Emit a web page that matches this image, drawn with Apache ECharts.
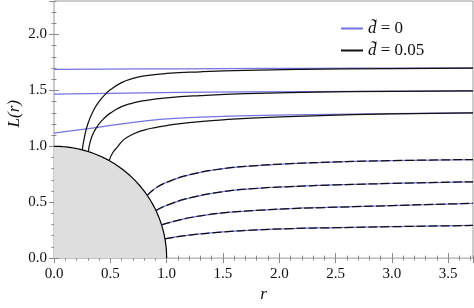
<!DOCTYPE html>
<html>
<head>
<meta charset="utf-8">
<script src="https://cdn.jsdelivr.net/npm/echarts@6/dist/echarts.min.js"></script>
<style>html,body{margin:0;padding:0;background:#fff}#c{width:474px;height:308px}</style>
</head>
<body>
<div id="c"></div>
<script>
// ---- data ----
const legendLabels = ['d\u0303 = 0', 'd\u0303 = 0.05'];
const obstacleRadius = 1;
const xTicksMajor = 0.5, xTicksMinor = 0.1;
const xRange = [0, 3.72];
const yRange = [0, 2.3];

// d = 0 (blue)
const blue1R = [0, 0.855, 1.5, 2.28, 3.0, 3.72];
const blue1L = [1.689, 1.692, 1.695, 1.698, 1.700, 1.702];
const blue2R = [0, 1.118, 2.28, 3.72];
const blue2L = [1.467, 1.482, 1.490, 1.497];
const blue3R = [0, 0.29, 0.556, 0.943, 1.3, 1.65, 2.28, 3.0, 3.72];
const blue3L = [1.119, 1.155, 1.193, 1.240, 1.262, 1.273, 1.284, 1.293, 1.300];

// d = 0.05 (black), upper three
const black1R = [0.251, 0.27, 0.30, 0.35, 0.40, 0.45, 0.50, 0.6, 0.7, 0.8, 1.0, 1.3, 1.7, 2.2, 3.0, 3.72];
const black1L = [0.968, 1.08, 1.20, 1.32, 1.40, 1.46, 1.505, 1.570, 1.607, 1.630, 1.652, 1.667, 1.680, 1.689, 1.696, 1.700];
const black2R = [0.305, 0.32, 0.35, 0.40, 0.45, 0.50, 0.6, 0.7, 0.8, 1.0, 1.3, 1.7, 2.2, 3.0, 3.72];
const black2L = [0.952, 1.035, 1.12, 1.20, 1.255, 1.297, 1.355, 1.387, 1.408, 1.433, 1.454, 1.472, 1.483, 1.492, 1.497];
const black3R = [0.49, 0.52, 0.56, 0.62, 0.7, 0.8, 0.9, 1.0, 1.2, 1.5, 1.8, 2.3, 3.0, 3.72];
const black3L = [0.872, 0.94, 0.99, 1.06, 1.108, 1.145, 1.168, 1.186, 1.212, 1.237, 1.255, 1.273, 1.290, 1.300];

// lower four curves (d = 0 and d = 0.05 coincide)
const lowAR = [0.828, 0.9, 1.0, 1.2, 1.5, 1.8, 2.1, 2.5, 3.0, 3.72];
const lowAL = [0.561, 0.625, 0.678, 0.745, 0.800, 0.828, 0.845, 0.860, 0.872, 0.882];
const lowBR = [0.905, 1.0, 1.2, 1.5, 1.8, 2.1, 2.5, 3.0, 3.72];
const lowBL = [0.425, 0.472, 0.537, 0.594, 0.624, 0.640, 0.655, 0.668, 0.683];
const lowCR = [0.955, 1.1, 1.3, 1.5, 1.8, 2.1, 2.5, 3.0, 3.72];
const lowCL = [0.297, 0.338, 0.378, 0.405, 0.427, 0.443, 0.455, 0.470, 0.490];
const lowDR = [0.985, 1.2, 1.5, 1.8, 2.1, 2.5, 3.0, 3.72];
const lowDL = [0.173, 0.205, 0.234, 0.252, 0.264, 0.272, 0.281, 0.292];

// ---- chart ----
const BLUE = '#7373e2', BLACK = '#111';
const FONT = 'Liberation Serif';
const zip = (a, b) => a.map((v, i) => [v, b[i]]);

function line(name, r, L, color, dashed, z) {
  return {
    type: 'line', name, data: zip(r, L), showSymbol: false, symbol: 'none',
    smooth: 0.5, z: z || 3, silent: true,
    lineStyle: { color, width: 1.25, type: dashed ? [9, 3] : 'solid' },
    itemStyle: { color }
  };
}

const frameAxisX = (pos, interval, len, labels) => ({
  type: 'value', position: pos, min: xRange[0], max: xRange[1], interval,
  axisLine: { show: false }, splitLine: { show: false },
  axisTick: { show: true, inside: true, length: len, lineStyle: { color: '#888', width: 1 } },
  axisLabel: labels ? { show: true, fontFamily: FONT, fontSize: 15, color: '#111', margin: 8,
    showMaxLabel: false, formatter: v => v.toFixed(1) } : { show: false }
});
const frameAxisY = (pos, interval, len, labels) => ({
  type: 'value', position: pos, min: yRange[0], max: yRange[1], interval,
  axisLine: { show: false }, splitLine: { show: false },
  axisTick: { show: true, inside: true, length: len, lineStyle: { color: '#888', width: 1 } },
  axisLabel: labels ? { show: true, fontFamily: FONT, fontSize: 15, color: '#111', margin: 7,
    showMaxLabel: false, formatter: v => v.toFixed(1) } : { show: false }
});

const xAxes = [
  Object.assign(frameAxisX('bottom', xTicksMajor, 5, true), {
    name: 'r', nameLocation: 'middle', nameGap: 26,
    nameTextStyle: { fontFamily: FONT, fontStyle: 'italic', fontSize: 17, color: '#111' }
  }),
  frameAxisX('bottom', xTicksMinor, 2.5, false),
  frameAxisX('top', xTicksMajor, 5, false),
  frameAxisX('top', xTicksMinor, 2.5, false)
];
const yAxes = [
  frameAxisY('left', xTicksMajor, 5, true),
  frameAxisY('left', xTicksMinor, 2.5, false),
  frameAxisY('right', xTicksMajor, 5, false),
  frameAxisY('right', xTicksMinor, 2.5, false)
];

const series = [
  {
    type: 'custom', data: [[0, 0]], z: 1, silent: true, clip: true,
    renderItem(params, api) {
      const pts = [];
      for (let i = 0; i <= 90; i++) {
        const t = i * Math.PI / 180;
        pts.push(api.coord([obstacleRadius * Math.cos(t), obstacleRadius * Math.sin(t)]));
      }
      const o = api.coord([0, 0]);
      return {
        type: 'group', children: [
          { type: 'polygon', shape: { points: [o].concat(pts) }, style: { fill: '#dedede' } },
          { type: 'polyline', shape: { points: pts }, style: { stroke: '#000', lineWidth: 1.2, fill: null } }
        ]
      };
    }
  },
  line(legendLabels[0], blue1R, blue1L, BLUE),
  line(legendLabels[0], blue2R, blue2L, BLUE),
  line(legendLabels[0], blue3R, blue3L, BLUE),
  line(legendLabels[1], black1R, black1L, BLACK, false, 4),
  line(legendLabels[1], black2R, black2L, BLACK, false, 4),
  line(legendLabels[1], black3R, black3L, BLACK, false, 4),
  line(legendLabels[0], lowAR, lowAL, BLUE),
  line(legendLabels[0], lowBR, lowBL, BLUE),
  line(legendLabels[0], lowCR, lowCL, BLUE),
  line(legendLabels[0], lowDR, lowDL, BLUE),
  line(legendLabels[1], lowAR, lowAL, BLACK, true, 4),
  line(legendLabels[1], lowBR, lowBL, BLACK, true, 4),
  line(legendLabels[1], lowCR, lowCL, BLACK, true, 4),
  line(legendLabels[1], lowDR, lowDL, BLACK, true, 4)
];

const chart = echarts.init(document.getElementById('c'), null, { renderer: 'canvas' });
chart.setOption({
  animation: false,
  backgroundColor: '#fff',
  grid: { left: 54, right: 1, top: 1, bottom: 49, show: true, borderColor: '#999', borderWidth: 1,
    backgroundColor: 'transparent' },
  xAxis: xAxes,
  yAxis: yAxes,
  legend: {
    data: legendLabels, orient: 'vertical', left: 336, top: 15, itemWidth: 22, itemHeight: 2,
    itemGap: 5, itemTextGap: 17, icon: 'rect', selectedMode: false,
    textStyle: { fontFamily: FONT, fontSize: 17, color: '#111',
      rich: { i: { fontFamily: FONT, fontStyle: 'italic', fontSize: 17, color: '#111' } } },
    formatter: n => '{i|' + n.slice(0, 2) + '}' + n.slice(2)
  },
  graphic: [{
    type: 'text', left: 6, top: 100, rotation: Math.PI / 2,
    style: { text: 'L(r)', fontFamily: FONT, fontStyle: 'italic', fontSize: 17, fill: '#111' }
  }],
  series
});
</script>
</body>
</html>
